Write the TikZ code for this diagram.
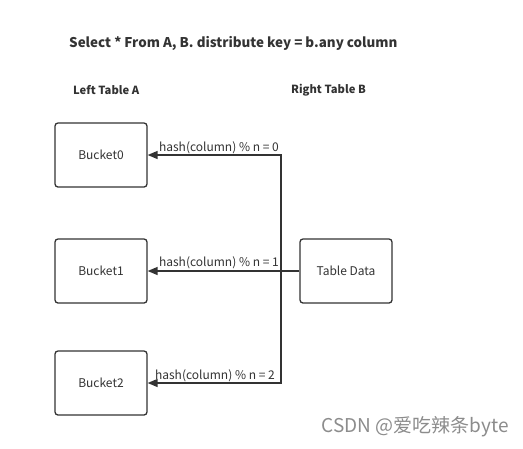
\documentclass[tikz,border=0pt]{standalone}
\usepackage{fontspec}
\setmainfont{Noto Sans CJK SC}
\usetikzlibrary{arrows.meta,positioning}
\definecolor{linie}{HTML}{333333}
\definecolor{schrift}{HTML}{333333}
\tikzset{
    bucket/.style={draw=linie, line width=1.3pt, rounded corners=3pt, minimum width=92pt, minimum height=64pt, inner sep=0pt, text=schrift, font=\fontsize{12}{14}\selectfont},
    hashlbl/.style={inner sep=0pt, text=schrift, font=\fontsize{12}{14}\selectfont, anchor=base east},
    kopf/.style={inner sep=0pt, text=schrift, font=\fontsize{11.2}{13}\selectfont\bfseries},
    pfeil/.style={draw=linie, line width=1.4pt, -{Triangle[length=10pt,width=8pt]}}
}
\begin{document}
\begin{tikzpicture}[x=1pt,y=-1pt]
            \useasboundingbox[fill=white] (0,0) rectangle (523,448);

            % Ueberschriften
            \node[kopf, font=\fontsize{13.4}{16}\selectfont\bfseries, anchor=west] (titel) at (69,43) {Select * From A, B. distribute key = b.any column};
            \node[kopf, anchor=west] (linksA) at (73,90) {Left Table A};
            \node[kopf, anchor=west] (rechtsB) at (291,90) {Right Table B};

            % Buckets
            \node[bucket] (b0) at (101,155) {Bucket0};
            \node[bucket] (b1) at (101,271) {Bucket1};
            \node[bucket] (b2) at (101,383) {Bucket2};
            \node[bucket] (daten) at (346,271) {Table Data};

            % Verteilung
            \coordinate (mitte) at (281,271);
            \draw[pfeil] (daten.west) -- (b1.east);
            \draw[pfeil] (mitte) |- (b0.east);
            \draw[pfeil] (mitte) |- (b2.east);

            % Beschriftungen
            \node[hashlbl] (h0) at (279,151) {hash(column) \% n = 0};
            \node[hashlbl] (h1) at (279,266) {hash(column) \% n = 1};
            \node[hashlbl] (h2) at (275,379) {hash(column) \% n = 2};

            % Wasserzeichen
            \node[inner sep=0pt, text=black!45, font=\fontsize{19}{21}\selectfont, anchor=east] (marke) at (509,427) {CSDN @爱吃辣条byte};
        \end{tikzpicture}
\end{document}
